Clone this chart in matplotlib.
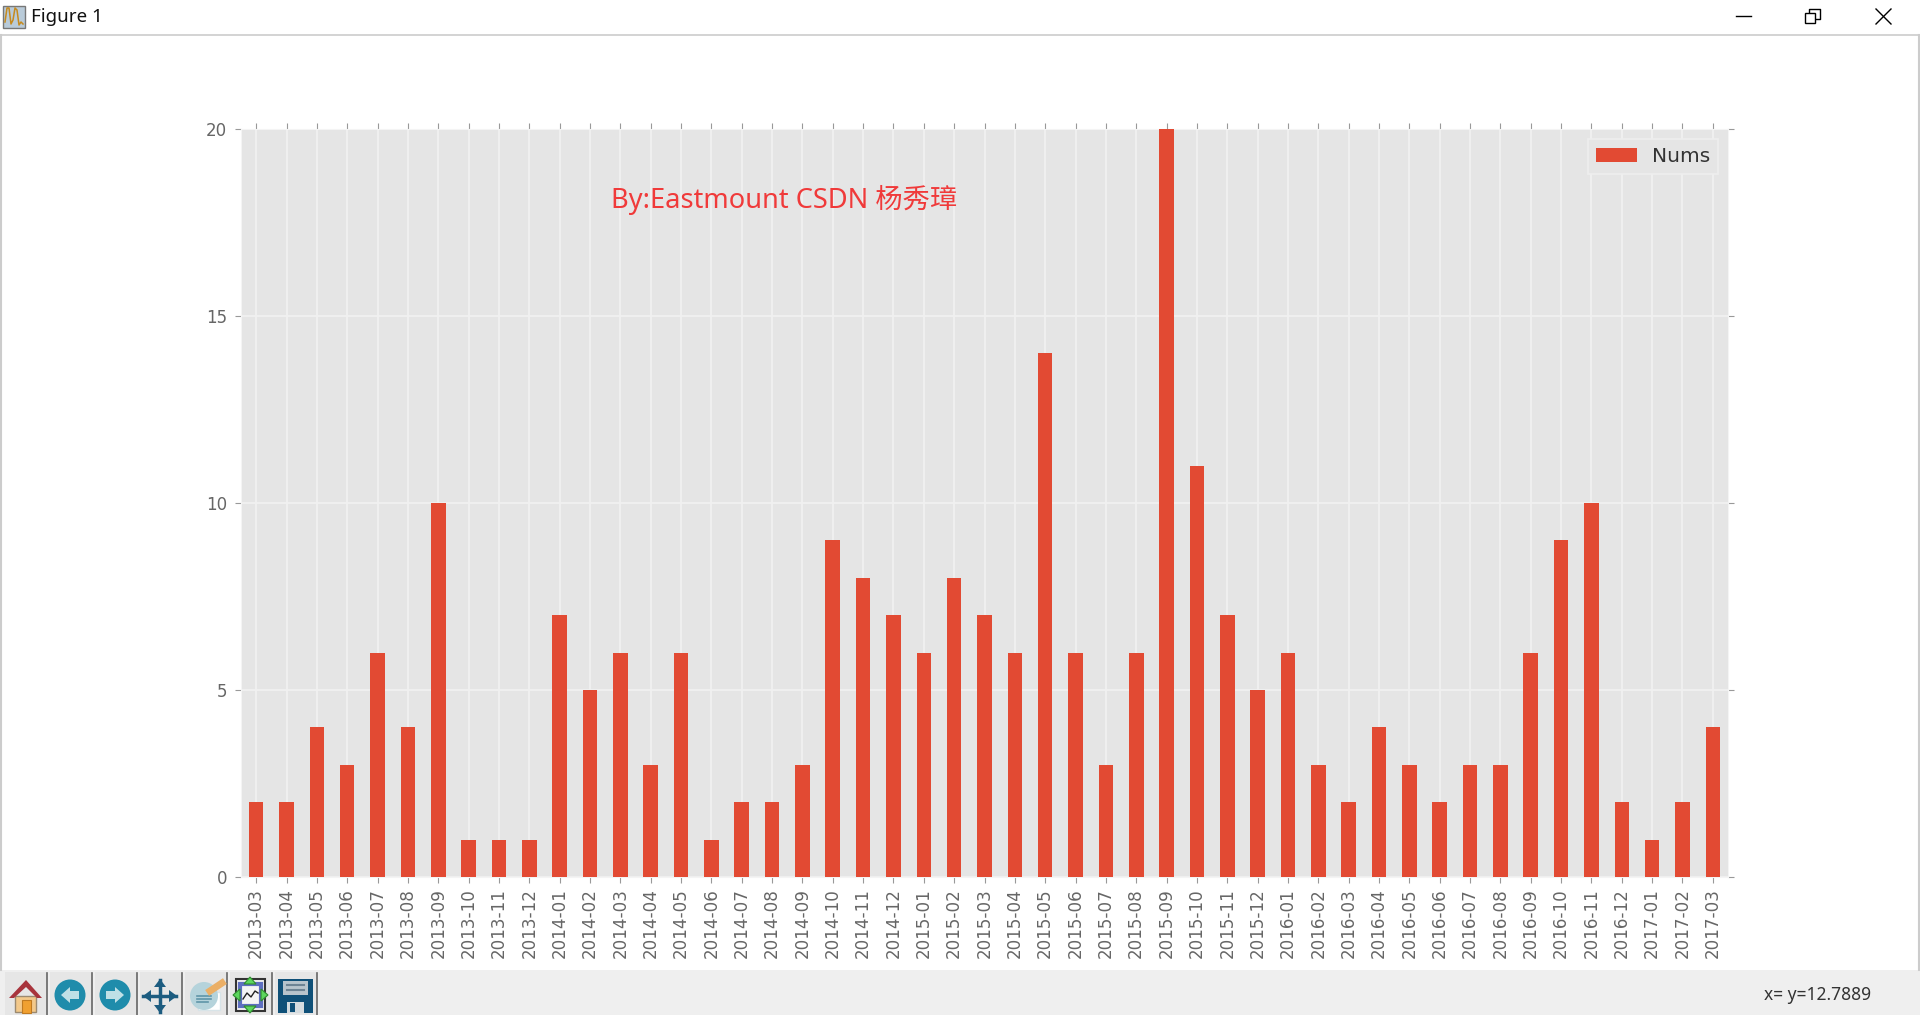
import numpy as np
import matplotlib
matplotlib.use("Agg")
import matplotlib.pyplot as plt
from matplotlib.patches import Rectangle, Circle, Polygon

months = ["2013-03", "2013-04", "2013-05", "2013-06", "2013-07", "2013-08", "2013-09", "2013-10",
          "2013-11", "2013-12", "2014-01", "2014-02", "2014-03", "2014-04", "2014-05", "2014-06",
          "2014-07", "2014-08", "2014-09", "2014-10", "2014-11", "2014-12", "2015-01", "2015-02",
          "2015-03", "2015-04", "2015-05", "2015-06", "2015-07", "2015-08", "2015-09", "2015-10",
          "2015-11", "2015-12", "2016-01", "2016-02", "2016-03", "2016-04", "2016-05", "2016-06",
          "2016-07", "2016-08", "2016-09", "2016-10", "2016-11", "2016-12", "2017-01", "2017-02",
          "2017-03"]
nums = [2, 2, 4, 3, 6, 4, 10, 1, 1, 1,
        7, 5, 6, 3, 6, 1, 2, 2, 3, 9, 8, 7,
        6, 8, 7, 6, 14, 6, 3, 6, 20, 11, 7, 5,
        6, 3, 2, 4, 3, 2, 3, 3, 6, 9, 10, 2,
        1, 2, 4]
y_ticks = [0, 5, 10, 15, 20]

W, H = 1920, 1015
fig = plt.figure(figsize=(W / 100, H / 100), dpi=100, facecolor="white")

# plot area, ggplot look
ax = fig.add_axes([241 / W, (H - 877) / H, 1487 / W, 748 / H], facecolor="#E5E5E5")
x = np.arange(len(nums))
ax.bar(x, nums, width=0.48, color="#E24A33", label="Nums", zorder=3)
ax.set_xlim(-0.5, len(nums) - 0.5)
ax.set_ylim(0, 20)
ax.set_xticks(x)
ax.set_xticklabels(months, rotation=90, fontsize=12.1, color="#666666")
ax.set_yticks(y_ticks)
ax.tick_params(axis="y", labelsize=12, labelcolor="#666666", color="#999999", length=4,
               direction="out", left=True, right=True, pad=6)
ax.tick_params(axis="x", color="#999999", length=4, direction="out", top=True, bottom=True, pad=4)
ax.grid(True, color="#F1F1F1", linewidth=1.3, zorder=0)
ax.set_axisbelow(True)
for s in ax.spines.values():
    s.set_color("#F4F4F4")
    s.set_linewidth(0.8)

label_tf = matplotlib.transforms.blended_transform_factory(
    matplotlib.transforms.IdentityTransform(), ax.transData)
ax.text(611, 18.1, "By:Eastmount CSDN 杨秀璋", color="#F03A3A", fontsize=19.6,
        family=["Noto Sans", "Noto Sans CJK SC"], va="center", ha="left", transform=label_tf)

leg = ax.legend(loc="upper right", fontsize=14.5, fancybox=False, borderaxespad=0.5,
                handletextpad=0.75, facecolor="#E5E5E5", edgecolor="#EEEEEE", framealpha=1)
leg.get_frame().set_linewidth(1.2)
leg.get_texts()[0].set_color("#333333")

# window chrome and toolbar, drawn in pixel coordinates
ui = fig.add_axes([0, 0, 1, 1], facecolor="none", zorder=5)
ui.set_xlim(0, W)
ui.set_ylim(H, 0)
ui.axis("off")

ui.plot([0, W], [35, 35], color="#CCCCCC", lw=1.2)
ui.plot([1, 1], [35, 970], color="#CCCCCC", lw=1.5)
ui.plot([W - 1, W - 1], [35, 970], color="#CCCCCC", lw=1.5)
ui.add_patch(Rectangle((0, 970), W, 45, color="#EFEFEF", lw=0))

# title bar
ui.add_patch(Rectangle((3, 6), 22, 22, fc="#B9CBD9", ec="#777777", lw=1))
ui.plot([5, 7, 9, 11, 13, 15, 17, 19, 21, 23], [22, 8, 8, 24, 20, 8, 10, 25, 22, 24],
        color="#C68A1E", lw=1.1)
ui.text(31, 17, "Figure 1", fontsize=13.5, family="Noto Sans", color="#111111", va="center")
ui.plot([1736, 1751], [16, 16], color="black", lw=1)
ui.add_patch(Rectangle((1805, 13), 10, 10, fc="white", ec="black", lw=1, zorder=3))
ui.plot([1809, 1809, 1820, 1820, 1815], [13, 9, 9, 19, 19], color="black", lw=1)
ui.plot([1876, 1891], [9, 24], color="black", lw=1)
ui.plot([1876, 1891], [24, 9], color="black", lw=1)

# toolbar buttons
for bx in [5, 50, 95, 140, 185, 230, 275]:
    ui.add_patch(Rectangle((bx, 972), 42, 43, color="#E6E6E6", lw=0))
    ui.plot([bx + 42, bx + 42], [973, 1015], color="#666666", lw=1.2)

# home
ui.add_patch(Rectangle((15, 996), 21, 16, fc="#F3C98B", ec="#9C8A70", lw=1))
ui.add_patch(Rectangle((22, 1000), 9, 13, fc="#F0A030", ec="#C07A20", lw=0.8))
ui.add_patch(Polygon([[9, 998], [26, 980], [42, 998], [37, 998], [26, 987], [14, 998]], color="#A8343C", lw=0))

# back / forward
ui.add_patch(Circle((70, 995), 15.5, color="#1F8CAB", lw=0))
ui.add_patch(Polygon([[61, 995], [70, 987], [70, 991], [79, 991], [79, 999], [70, 999], [70, 1003]],
                     color="#BFE0E6", lw=0))
ui.add_patch(Circle((115, 995), 15.5, color="#1F8CAB", lw=0))
ui.add_patch(Polygon([[124, 995], [115, 987], [115, 991], [106, 991], [106, 999], [115, 999], [115, 1003]],
                     color="#BFE0E6", lw=0))

# pan
ui.plot([143, 176], [996, 996], color="#1C5C80", lw=2.5)
ui.plot([160, 160], [980, 1012], color="#1C5C80", lw=2.5)
for pts in ([[160, 979], [154, 987], [166, 987]], [[160, 1013], [154, 1005], [166, 1005]],
            [[143, 996], [151, 990], [151, 1002]], [[177, 996], [169, 990], [169, 1002]]):
    ui.add_patch(Polygon(pts, color="#1C5C80", lw=0))

# edit
ui.add_patch(Rectangle((198, 992), 22, 18, fc="white", ec="#D8E4E8", lw=1))
ui.add_patch(Circle((204, 996), 14, color="#B5D3DB", lw=0))
ui.plot([197, 211], [996, 996], color="#5F95A8", lw=1.2)
ui.plot([197, 211], [999, 999], color="#5F95A8", lw=1.2)
ui.plot([197, 208], [1002, 1002], color="#5F95A8", lw=1.2)
ui.plot([210, 222], [991, 983], color="#EBAF66", lw=5)

# configure subplots
ui.add_patch(Rectangle((236, 979), 29, 32, fc="#F2F2F2", ec="#333333", lw=1.5))
ui.add_patch(Rectangle((240, 984), 21, 22, fc="#F5F5F5", ec="#5E6FC0", lw=3))
ui.plot([243, 247, 251, 255, 258], [999, 993, 997, 991, 993], color="#222222", lw=1)
for pts in ([[250, 977], [244, 984], [256, 984]], [[250, 1013], [244, 1006], [256, 1006]],
            [[233, 995], [240, 989], [240, 1001]], [[268, 995], [261, 989], [261, 1001]]):
    ui.add_patch(Polygon(pts, fc="#5CD65C", ec="#2E8B2E", lw=0.8))

# save
ui.add_patch(Rectangle((278, 979), 35, 34, color="#0F5078", lw=0))
ui.add_patch(Rectangle((283, 981), 25, 14, color="#B8C4CC", lw=0))
ui.plot([287, 304], [985, 985], color="#6E8494", lw=1.5)
ui.plot([287, 304], [990, 990], color="#6E8494", lw=1.5)
ui.add_patch(Rectangle((287, 1002), 17, 11, color="#D5DCE0", lw=0))
ui.add_patch(Rectangle((290, 1003), 5, 9, color="#0F5078", lw=0))

ui.text(1764, 995, "x= y=12.7889", fontsize=12.5, family="Noto Sans", color="#333333", va="center")

fig.savefig("out.png", dpi=100)
